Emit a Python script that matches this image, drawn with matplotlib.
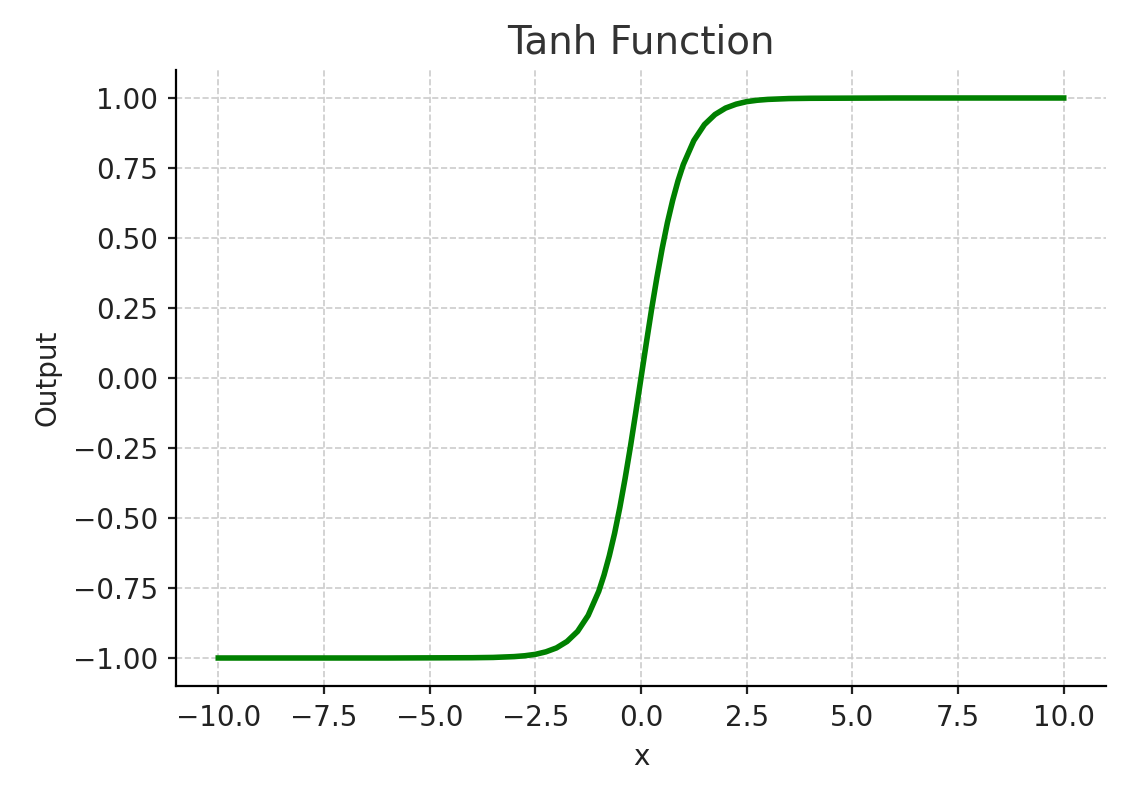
import matplotlib
matplotlib.use("Agg")
import matplotlib.pyplot as plt

x_vals = [-10, -8, -6, -4, -3.5, -3, -2.75, -2.5, -2.25, -2, -1.75, -1.5, -1.25, -1, -0.875, -0.75, -0.625, -0.5, -0.375, -0.25, -0.125,
          0, 0.125, 0.25, 0.375, 0.5, 0.625, 0.75, 0.875, 1, 1.25, 1.5, 1.75, 2, 2.25, 2.5, 2.75, 3, 3.5, 4, 6, 8, 10]
y_vals = [-1.0, -1.0, -1.0, -0.999, -0.998, -0.995, -0.992, -0.987, -0.978, -0.964, -0.941, -0.905, -0.848, -0.762, -0.704, -0.635, -0.555, -0.462, -0.358, -0.245, -0.124,
          0.0, 0.124, 0.245, 0.358, 0.462, 0.555, 0.635, 0.704, 0.762, 0.848, 0.905, 0.941, 0.964, 0.978, 0.987, 0.992, 0.995, 0.998, 0.999, 1.0, 1.0, 1.0]
x_ticks = [-10.0, -7.5, -5.0, -2.5, 0.0, 2.5, 5.0, 7.5, 10.0]
y_ticks = [-1.0, -0.75, -0.5, -0.25, 0.0, 0.25, 0.5, 0.75, 1.0]

fig = plt.figure(figsize=(5.63, 3.965), dpi=200)
ax = fig.add_axes([176/1126, 1-686/793, 930/1126, 616/793])
ax.plot(x_vals, y_vals, color="green", linewidth=2)
ax.set_xlim(-11, 11)
ax.set_ylim(-1.1, 1.1)
ax.set_xticks(x_ticks)
ax.set_yticks(y_ticks)
ax.set_xticklabels([f"{v:.1f}".replace("-", "\u2212") for v in x_ticks])
ax.set_yticklabels([f"{v:.2f}".replace("-", "\u2212") for v in y_ticks])
ax.tick_params(labelsize=10, colors="#222222", length=3)
ax.grid(True, linestyle="--", color="#cccccc", linewidth=0.6)
for s in ["top", "right"]:
    ax.spines[s].set_visible(False)
ax.set_title("Tanh Function", fontsize=14, color="#333333")
ax.set_xlabel("x", fontsize=10, color="#222222")
ax.set_ylabel("Output", fontsize=10, color="#222222")
fig.savefig("out.png", dpi=200)
